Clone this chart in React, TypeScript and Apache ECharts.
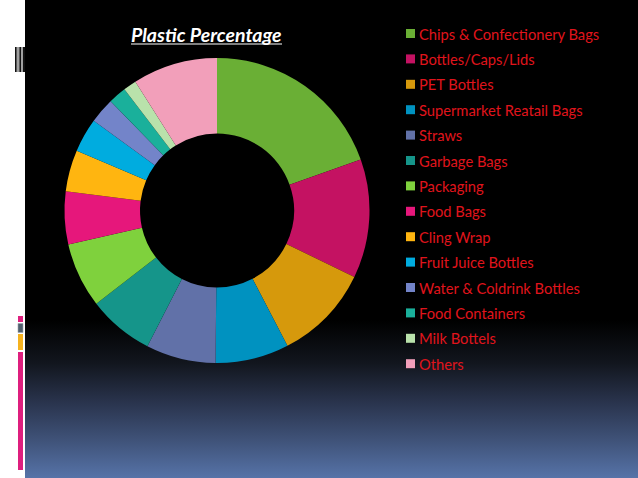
import React, { useEffect, useRef } from "react";
import * as echarts from "echarts";

const categories = [
  "Chips & Confectionery Bags",
  "Bottles/Caps/Lids",
  "PET Bottles",
  "Supermarket Reatail Bags",
  "Straws",
  "Garbage Bags",
  "Packaging",
  "Food Bags",
  "Cling Wrap",
  "Fruit Juice Bottles",
  "Water & Coldrink Bottles",
  "Food Containers",
  "Milk Bottels",
  "Others",
];

const values = [19.6, 12.6, 10.2, 7.8, 7.4, 7.0, 6.9, 5.6, 4.4, 3.6, 2.7, 1.9, 1.4, 9.0];

const colors = [
  "#6aaf35",
  "#c41262",
  "#d6990c",
  "#0092c0",
  "#6171a8",
  "#15958a",
  "#7fd13d",
  "#e6177b",
  "#ffb510",
  "#00acdf",
  "#7384c9",
  "#1ab09b",
  "#b9e2ab",
  "#f29fba",
];

const titleText = "Plastic Percentage";

export default function App() {
  const ref = useRef<HTMLDivElement>(null);
  useEffect(() => {
    if (!ref.current) return;
    const chart = echarts.init(ref.current, undefined, { renderer: "svg" });
    chart.setOption({
      animation: false,
      backgroundColor: "#ffffff",
      color: colors,
      graphic: [
        {
          type: "rect",
          z: -10,
          shape: { x: 25, y: 0, width: 613, height: 478 },
          style: {
            fill: new echarts.graphic.LinearGradient(0, 0, 0, 1, [
              { offset: 0, color: "#000000" },
              { offset: 0.67, color: "#000000" },
              { offset: 0.76, color: "#12161e" },
              { offset: 0.84, color: "#29334c" },
              { offset: 0.92, color: "#3f5278" },
              { offset: 1, color: "#5673a8" },
            ]),
          },
        },
        { type: "rect", z: -5, shape: { x: 15, y: 47, width: 10, height: 25 }, style: { fill: "#a0a0a0" } },
        { type: "rect", z: -4, shape: { x: 15, y: 47, width: 1.5, height: 25 }, style: { fill: "#111" } },
        { type: "rect", z: -4, shape: { x: 19.5, y: 47, width: 1.5, height: 25 }, style: { fill: "#111" } },
        { type: "rect", z: -4, shape: { x: 23, y: 47, width: 2, height: 25 }, style: { fill: "#111" } },
        { type: "rect", z: -5, shape: { x: 18, y: 316, width: 5, height: 6 }, style: { fill: "#de1f7e" } },
        { type: "rect", z: -5, shape: { x: 18, y: 323.5, width: 5, height: 9 }, style: { fill: "#4f5f6e", stroke: "#9aa4ad", lineWidth: 0.6 } },
        { type: "rect", z: -5, shape: { x: 18, y: 334, width: 5, height: 16 }, style: { fill: "#f5b21f" } },
        { type: "rect", z: -5, shape: { x: 18, y: 352, width: 5, height: 118 }, style: { fill: "#de1f7e" } },
        {
          type: "text",
          z: 5,
          x: 131,
          y: 24,
          style: {
            text: titleText,
            fill: "#ffffff",
            font: "italic bold 19.5px Lato",
          },
        },
        {
          type: "line",
          z: 5,
          shape: { x1: 131, y1: 44, x2: 282, y2: 44 },
          style: { stroke: "#ffffff", lineWidth: 1.2 },
        },
      ],
      legend: {
        orient: "vertical",
        left: 406,
        top: 26,
        padding: 0,
        icon: "rect",
        itemWidth: 9,
        itemHeight: 9,
        itemGap: 10.4,
        selectedMode: false,
        data: categories,
        textStyle: {
          color: "#e0141c",
          fontFamily: "Lato",
          fontSize: 14.7,
          lineHeight: 14.6,
          padding: [0, 0, 0, -1],
        },
      },
      series: [
        {
          type: "pie",
          center: [217, 210.5],
          radius: [77, 152.5],
          startAngle: 90,
          clockwise: true,
          silent: true,
          label: { show: false },
          labelLine: { show: false },
          itemStyle: { borderWidth: 0 },
          data: categories.map((name, i) => ({ name, value: values[i] })),
        },
      ],
    });
    return () => chart.dispose();
  }, []);
  return (
    <div
      ref={ref}
      style={{ position: "absolute", left: 0, top: 0, width: 638, height: 478 }}
    />
  );
}
